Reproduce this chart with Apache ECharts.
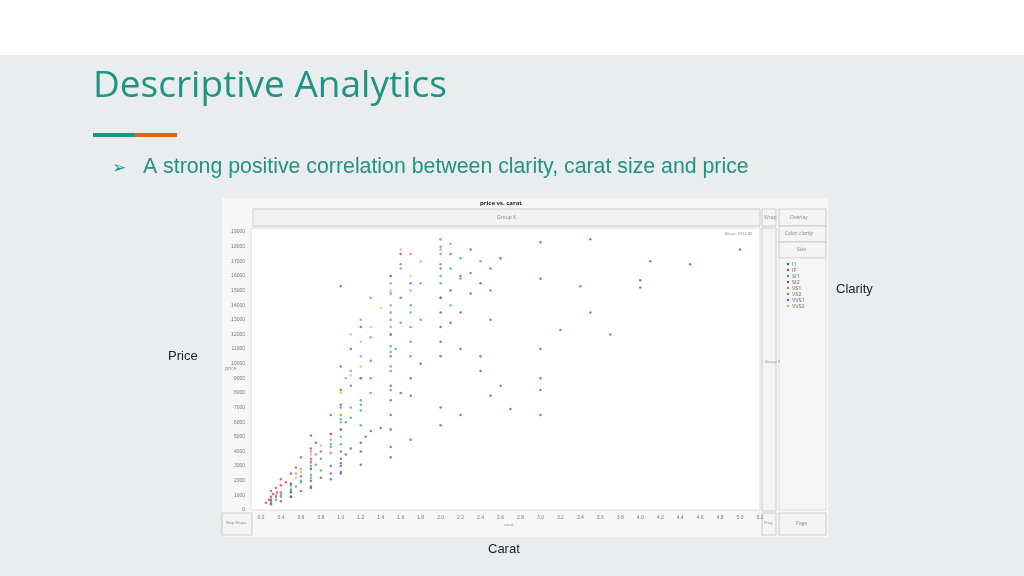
<!DOCTYPE html>
<html><head><meta charset="utf-8">
<script src="https://cdn.jsdelivr.net/npm/echarts@6/dist/echarts.min.js"></script>
<style>html,body{margin:0;padding:0;background:#e9eded}#c{width:1024px;height:576px}</style>
</head><body><div id="c"></div>
<script>
const clarities=['I1','IF','SI1','SI2','VS1','VS2','VVS1','VVS2'];
const colors=['#3b5fc9','#d9304a','#2fb35a','#7b3fb3','#e0708a','#3fa0b0','#a040e0','#c8c040'];
const I1=[[0.5,900],[0.7,1500],[0.9,2100],[1.0,2600],[1.0,3200],[1.2,3100],[1.5,3600],[1.5,4300],[1.7,4800],[2.0,5800],[2.0,7000],[2.2,6500],[2.5,7800],[3.0,9000],[3.0,11000],[3.0,6500],[3.0,8200],[3.5,13500],[4.0,15200],[4.5,16800],[5.0,17800],[2.7,6900],[3.2,12300],[3.7,12000],[3.4,15300],[4.1,17000],[4.0,15700],[3.5,18500],[3.0,18300],[3.0,15800],[2.6,8500],[2.4,10500]];
const IF=[[0.25,500],[0.3,900],[0.3,1300],[0.32,1100],[0.35,1500],[0.4,1700],[0.4,2100],[0.5,2500],[0.55,2900],[0.6,3600],[0.7,4200],[0.7,5100],[0.75,4600],[0.9,6500],[1.0,8200],[1.0,9800],[1.1,11000],[1.2,12500],[1.5,16000],[1.6,17500],[1.0,15300],[0.28,700],[0.36,1200],[0.45,1900]];
const SI1=[[0.3,500],[0.35,700],[0.4,900],[0.5,1300],[0.5,1700],[0.55,1600],[0.6,1900],[0.7,2200],[0.7,2800],[0.7,3300],[0.75,3100],[0.8,2700],[0.9,3900],[0.9,4500],[0.9,5200],[1.0,4500],[1.0,5500],[1.0,6500],[1.0,7200],[1.05,6000],[1.1,6300],[1.2,5800],[1.2,6800],[1.2,7500],[1.3,8000],[1.5,8200],[1.5,9500],[1.5,10800],[1.5,12000],[1.5,13500],[1.5,14800],[1.55,11000],[1.7,10500],[1.7,12500],[1.7,14000],[1.8,13000],[2.0,14500],[2.0,16000],[2.0,17500],[2.0,18500],[2.1,16500],[2.2,17200],[1.6,16800],[1.5,16000]];
const SI2=[[0.3,400],[0.4,600],[0.5,900],[0.5,1200],[0.6,1300],[0.7,1600],[0.7,2000],[0.8,2200],[0.9,2500],[0.9,3000],[1.0,2500],[1.0,3000],[1.0,3500],[1.0,4000],[1.05,3800],[1.1,4200],[1.2,4000],[1.2,4600],[1.25,5000],[1.3,5400],[1.4,5600],[1.5,5500],[1.5,6500],[1.5,7500],[1.5,8500],[1.6,8000],[1.7,7800],[1.7,9000],[1.8,10000],[2.0,10500],[2.0,11500],[2.0,12500],[2.0,13500],[2.0,14500],[2.1,12800],[2.1,15000],[2.2,13500],[2.2,16000],[2.3,14800],[2.4,15500],[2.5,16500],[2.5,13000],[2.6,17200],[2.3,17800],[2.2,11000],[2.4,9500]];
const VS1=[[0.3,700],[0.35,1000],[0.4,1200],[0.5,1800],[0.55,2500],[0.6,2800],[0.7,3300],[0.7,4000],[0.75,3800],[0.9,4800],[1.0,6000],[1.0,7200],[1.0,8200],[1.05,9000],[1.1,9500],[1.2,9000],[1.2,10500],[1.3,11800],[1.5,12500],[1.5,14000],[1.5,15500],[1.6,16500],[1.7,15000],[1.7,17500],[2.0,17800],[2.1,18200],[1.3,14500],[1.2,13000]];
const VS2=[[0.3,600],[0.4,1000],[0.5,1400],[0.6,2000],[0.7,2400],[0.7,3000],[0.8,3500],[0.9,4300],[1.0,5000],[1.0,6200],[1.1,7000],[1.2,7200],[1.3,9000],[1.5,9800],[1.5,11200],[1.5,13000],[1.6,12800],[1.7,11500],[1.7,13500],[2.0,15500],[2.0,16800],[2.0,18000],[2.2,15800],[2.4,17000],[1.8,15500],[2.1,14000]];
const VVS1=[[0.3,700],[0.35,900],[0.4,1200],[0.5,1800],[0.6,2300],[0.7,2800],[0.7,3500],[0.8,4000],[1.0,5500],[1.0,7000],[1.1,8500],[1.2,9000],[1.5,10500],[1.5,12000],[1.6,14500],[1.7,15500],[2.0,16500],[2.1,17500],[2.3,16200],[1.3,10200],[0.9,5200],[2.5,15000]];
const VVS2=[[0.3,800],[0.4,1200],[0.5,1600],[0.55,2200],[0.6,2600],[0.7,3200],[0.7,3800],[0.8,4400],[1.0,6500],[1.0,8000],[1.1,9200],[1.2,9800],[1.2,11500],[1.3,12500],[1.5,13500],[1.5,15000],[1.6,17800],[1.7,16000],[1.8,17000],[2.0,18500],[1.4,13800],[1.1,12000]];
const seriesData=[I1,IF,SI1,SI2,VS1,VS2,VVS1,VVS2];

const chart=echarts.init(document.getElementById('c'));
const g=[];
function rect(x,y,w,h,fill,stroke){g.push({type:'rect',shape:{x,y,width:w,height:h},style:{fill,stroke:stroke||null,lineWidth:1},z:-5});}
function txt(x,y,t,o){g.push(Object.assign({type:'text',x,y,style:Object.assign({text:t,fill:'#888',font:'5px Open Sans'},o||{})}));}
rect(0,0,1024,55,'#ffffff');
rect(222,198,606,339,'#f7f7f7');
rect(253,209,507,17,'#f2f2f2','#cccccc');
rect(251,228,509,282,'#ffffff','#dddddd');
rect(762,228,14,283,'#f4f4f4','#cccccc');
rect(762,209,14,17,'#f4f4f4','#cccccc');
rect(779,209,47,17,'#f4f4f4','#cccccc');
rect(779,226,47,16,'#f4f4f4','#cccccc');
rect(779,242,47,16,'#f4f4f4','#cccccc');
rect(779,258,47,252,'#f6f6f6','#dddddd');
rect(222,513,30,22,'#f4f4f4','#cccccc');
rect(762,513,14,22,'#f4f4f4','#cccccc');
rect(779,513,47,22,'#f4f4f4','#cccccc');
g.push({type:'rect',shape:{x:93,y:133,width:42,height:4},style:{fill:'#1f9484'}});
g.push({type:'rect',shape:{x:135,y:133,width:42,height:4},style:{fill:'#e0621c'}});
txt(93,68,'Descriptive Analytics',{fill:'#1f9484',font:'37px "Open Sans"'});
txt(112,160,'➢',{fill:'#1f9484',font:'17px "DejaVu Sans"'});
txt(143,157,'A strong positive correlation between clarity, carat size and price',{fill:'#1f9484',font:'21.3px "Liberation Sans"'});
txt(168,350,'Price',{fill:'#222',font:'13px "Liberation Sans"'});
txt(836,283,'Clarity',{fill:'#222',font:'13px "Liberation Sans"'});
txt(488,543,'Carat',{fill:'#222',font:'13px "Liberation Sans"'});
txt(480,200,'price vs. carat',{fill:'#222',font:'bold 6px "Open Sans"'});
txt(497,215,'Group X');
txt(764,215,'Wrap');
txt(790,215,'Overlay');
txt(785,231,'Color: clarity',{font:'italic 5px Open Sans'});
txt(797,247,'Size');
txt(725,232,'Mean: 3932.80',{font:'4px Open Sans'});
txt(226,521,'Map Shape',{font:'4px Open Sans'});
txt(764,521,'Freq',{font:'4px Open Sans'});
txt(796,521,'Page');
txt(765,360,'Group Y',{font:'4px Open Sans',rotation:-Math.PI/2});
txt(225,366,'price',{font:'5px Open Sans',rotation:Math.PI/2});
txt(504,523,'carat',{font:'4px Open Sans'});
clarities.forEach((c,i)=>{
  g.push({type:'circle',shape:{cx:788,cy:264+i*6,r:1.2},style:{fill:colors[i]}});
  txt(792,261+i*6,c,{font:'5.5px Open Sans',fill:'#666'});
});
chart.setOption({
  animation:false,
  graphic:{elements:g},
  grid:{left:251,right:264,top:232,bottom:66},
  xAxis:{type:'value',min:0.1,max:5.2,interval:0.1,
    axisLine:{show:false},axisTick:{show:false},splitLine:{show:false},
    axisLabel:{fontSize:5,color:'#777',margin:5,
      formatter:v=>{const r=Math.round(v*10);return (r%2===0&&r>=2)?(r/10).toFixed(1):'';}}},
  yAxis:{type:'value',min:0,max:19000,interval:1000,
    axisLine:{show:false},axisTick:{show:false},splitLine:{show:false},
    axisLabel:{fontSize:5,color:'#777',margin:6,formatter:v=>String(v)}},
  series:seriesData.map((d,i)=>({type:'scatter',name:clarities[i],data:d,symbol:'circle',symbolSize:2.5,
    itemStyle:{color:colors[i],opacity:0.75}}))
});
</script></body></html>
